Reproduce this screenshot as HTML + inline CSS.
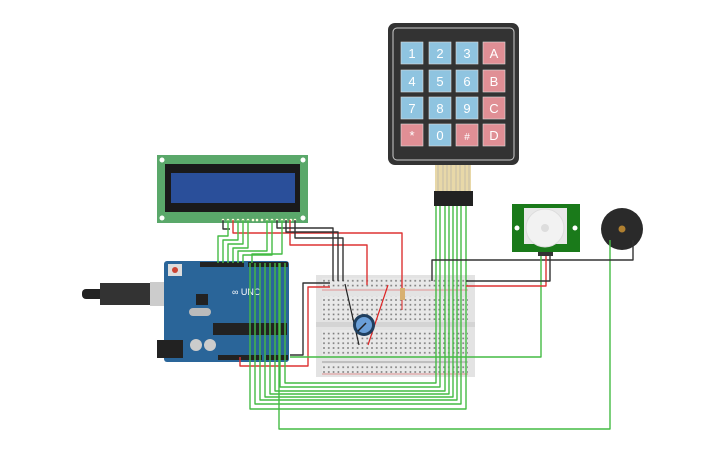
<!DOCTYPE html>
<html><head><meta charset="utf-8"><style>
html,body{margin:0;padding:0;background:#fff;width:725px;height:453px;overflow:hidden}
svg{display:block}
text{font-family:"Liberation Sans",sans-serif}
</style></head><body>
<svg width="725" height="453" viewBox="0 0 725 453" xmlns="http://www.w3.org/2000/svg">
<defs>
<pattern id="holes" x="0" y="0" width="4.8" height="4.8" patternUnits="userSpaceOnUse">
<rect width="4.8" height="4.8" fill="#e8e8e8"/><rect x="1.6" y="1.6" width="1.6" height="1.6" fill="#777"/>
</pattern>
</defs>

<!-- Breadboard -->
<rect x="316" y="275" width="159" height="102" fill="#e3e3e3"/>
<rect x="322" y="278" width="146" height="10" fill="url(#holes)"/>
<line x1="322" y1="290" x2="468" y2="290" stroke="#d44" stroke-width="0.6"/>
<rect x="322" y="296" width="146" height="24" fill="url(#holes)"/>
<rect x="316" y="322" width="159" height="5" fill="#d4d4d4"/>
<rect x="322" y="330" width="146" height="26" fill="url(#holes)"/>
<line x1="322" y1="362" x2="468" y2="362" stroke="#555" stroke-width="0.6"/>
<rect x="322" y="364" width="146" height="9" fill="url(#holes)"/>
<line x1="322" y1="374" x2="468" y2="374" stroke="#d44" stroke-width="0.6"/>

<!-- Keypad -->
<rect x="388" y="23" width="131" height="142" rx="7" fill="#333"/>
<rect x="393" y="28" width="121" height="132" rx="4" fill="none" stroke="#ccc" stroke-width="1"/>
<g font-size="13" fill="#fff" text-anchor="middle">
<rect x="401" y="42" width="22" height="22" fill="#8fc4e0" stroke="#ddd" stroke-width="0.6"/><text x="412" y="58">1</text>
<rect x="429" y="42" width="22" height="22" fill="#8fc4e0" stroke="#ddd" stroke-width="0.6"/><text x="440" y="58">2</text>
<rect x="456" y="42" width="22" height="22" fill="#8fc4e0" stroke="#ddd" stroke-width="0.6"/><text x="467" y="58">3</text>
<rect x="483" y="42" width="22" height="22" fill="#e08f95" stroke="#ddd" stroke-width="0.6"/><text x="494" y="58">A</text>
<rect x="401" y="70" width="22" height="22" fill="#8fc4e0" stroke="#ddd" stroke-width="0.6"/><text x="412" y="86">4</text>
<rect x="429" y="70" width="22" height="22" fill="#8fc4e0" stroke="#ddd" stroke-width="0.6"/><text x="440" y="86">5</text>
<rect x="456" y="70" width="22" height="22" fill="#8fc4e0" stroke="#ddd" stroke-width="0.6"/><text x="467" y="86">6</text>
<rect x="483" y="70" width="22" height="22" fill="#e08f95" stroke="#ddd" stroke-width="0.6"/><text x="494" y="86">B</text>
<rect x="401" y="97" width="22" height="22" fill="#8fc4e0" stroke="#ddd" stroke-width="0.6"/><text x="412" y="113">7</text>
<rect x="429" y="97" width="22" height="22" fill="#8fc4e0" stroke="#ddd" stroke-width="0.6"/><text x="440" y="113">8</text>
<rect x="456" y="97" width="22" height="22" fill="#8fc4e0" stroke="#ddd" stroke-width="0.6"/><text x="467" y="113">9</text>
<rect x="483" y="97" width="22" height="22" fill="#e08f95" stroke="#ddd" stroke-width="0.6"/><text x="494" y="113">C</text>
<rect x="401" y="124" width="22" height="22" fill="#e08f95" stroke="#ddd" stroke-width="0.6"/><text x="412" y="140">*</text>
<rect x="429" y="124" width="22" height="22" fill="#8fc4e0" stroke="#ddd" stroke-width="0.6"/><text x="440" y="140">0</text>
<rect x="456" y="124" width="22" height="22" fill="#e08f95" stroke="#ddd" stroke-width="0.6"/><text x="467" y="140" font-size="10">#</text>
<rect x="483" y="124" width="22" height="22" fill="#e08f95" stroke="#ddd" stroke-width="0.6"/><text x="494" y="140">D</text>
</g>
<rect x="435" y="165" width="36" height="27" fill="#e8d8a8"/>
<g stroke="#aaa" stroke-width="0.6"><line x1="438" y1="165" x2="438" y2="191"/><line x1="443" y1="165" x2="443" y2="191"/><line x1="447" y1="165" x2="447" y2="191"/><line x1="451" y1="165" x2="451" y2="191"/><line x1="456" y1="165" x2="456" y2="191"/><line x1="460" y1="165" x2="460" y2="191"/><line x1="465" y1="165" x2="465" y2="191"/><line x1="469" y1="165" x2="469" y2="191"/></g>
<rect x="434" y="191" width="39" height="15" fill="#222"/>

<!-- LCD -->
<rect x="157" y="155" width="151" height="68" fill="#5aa86a"/>
<circle cx="162" cy="160" r="2.5" fill="#fff"/><circle cx="303" cy="160" r="2.5" fill="#fff"/>
<circle cx="162" cy="218" r="2.5" fill="#fff"/><circle cx="303" cy="218" r="2.5" fill="#fff"/>
<rect x="165" y="164" width="135" height="48" fill="#1a1a1a"/>
<rect x="171" y="173" width="124" height="30" fill="#2a4f9a"/>
<g fill="#ffd"><circle cx="223" cy="220" r="1.3"/><circle cx="228" cy="220" r="1.3"/><circle cx="233" cy="220" r="1.3"/><circle cx="238" cy="220" r="1.3"/><circle cx="243" cy="220" r="1.3"/><circle cx="248" cy="220" r="1.3"/><circle cx="253" cy="220" r="1.3"/><circle cx="257" cy="220" r="1.3"/><circle cx="262" cy="220" r="1.3"/><circle cx="267" cy="220" r="1.3"/><circle cx="272" cy="220" r="1.3"/><circle cx="277" cy="220" r="1.3"/><circle cx="282" cy="220" r="1.3"/><circle cx="286" cy="220" r="1.3"/><circle cx="291" cy="220" r="1.3"/><circle cx="295" cy="220" r="1.3"/></g>

<!-- PIR -->
<rect x="512" y="204" width="68" height="48" fill="#1a7a1a"/>
<rect x="524" y="208" width="43" height="36" fill="#e8e8e8"/>
<circle cx="545" cy="228" r="19" fill="#f2f2f2" stroke="#ddd"/>
<circle cx="545" cy="228" r="4" fill="#ddd"/>
<circle cx="517" cy="228" r="2.5" fill="#fff"/><circle cx="575" cy="228" r="2.5" fill="#fff"/>
<rect x="538" y="252" width="15" height="4" fill="#333"/>

<!-- Buzzer -->
<circle cx="622" cy="229" r="21" fill="#2a2a2a"/>
<circle cx="622" cy="229" r="3.5" fill="#b08030"/>

<!-- Arduino -->
<rect x="82" y="289" width="22" height="10" rx="4" fill="#222"/>
<rect x="100" y="283" width="52" height="22" fill="#333"/>
<rect x="150" y="282" width="34" height="24" fill="#ccc"/>
<rect x="164" y="261" width="125" height="101" rx="3" fill="#2a6599"/>
<rect x="168" y="264" width="14" height="12" fill="#ddd"/><circle cx="175" cy="270" r="3" fill="#c43"/>
<rect x="200" y="262" width="44" height="5" fill="#222"/>
<rect x="248" y="262" width="40" height="5" fill="#222"/>
<rect x="157" y="340" width="26" height="18" fill="#222"/>
<circle cx="196" cy="345" r="6" fill="#ccc"/><circle cx="210" cy="345" r="6" fill="#ccc"/>
<rect x="213" y="323" width="74" height="12" fill="#222"/>
<rect x="196" y="294" width="12" height="11" fill="#222"/>
<rect x="189" y="308" width="22" height="8" rx="4" fill="#bbb"/>
<rect x="218" y="355" width="44" height="5" fill="#222"/>
<rect x="266" y="355" width="22" height="5" fill="#222"/>
<text x="232" y="295" font-size="9" fill="#fff">∞ UNO</text>

<!-- Potentiometer & resistor -->
<line x1="345" y1="284" x2="359" y2="345" stroke="#222" stroke-width="1.2"/>
<line x1="388" y1="285" x2="368" y2="345" stroke="#d22" stroke-width="1.2"/>
<circle cx="364" cy="325" r="11" fill="#1f3f5f"/><circle cx="364" cy="325" r="8" fill="#6a9fd8"/>
<line x1="358" y1="331" x2="366" y2="323" stroke="#222" stroke-width="1.5"/>
<rect x="400" y="288" width="5" height="12" fill="#d8b070"/>
<line x1="402" y1="300" x2="402" y2="310" stroke="#d22" stroke-width="1"/>

<!-- wires -->
<g fill="none" stroke-width="1.4" stroke-linejoin="round">
<path d="M233 220 V233 H402 V288" stroke="#d33"/>
<path d="M290 220 V245 H367 V285" stroke="#d33"/>
<path d="M277 220 V228 H333 V281" stroke="#333"/>
<path d="M286 220 V232 H338 V281" stroke="#333"/>
<path d="M295 220 V238 H343 V281" stroke="#333"/>
<path d="M223 220 V229 H230" stroke="#333"/>
<path d="M228 220 V236 H218 V263" stroke="#4b4"/>
<path d="M238 220 V240 H223 V263" stroke="#4b4"/>
<path d="M243 220 V244 H228 V263" stroke="#4b4"/>
<path d="M248 220 V248 H233 V263" stroke="#4b4"/>
<path d="M267 220 V251 H238 V263" stroke="#4b4"/>
<path d="M272 220 V255 H243 V263" stroke="#4b4"/>
<path d="M282 220 V254 H252 V263" stroke="#4b4"/>
<path d="M290 355 H303 V283 H330" stroke="#333"/>
<path d="M240 357 V366 H308 V287 H330" stroke="#d33"/>
<path d="M436 206 V383 H285 V263" stroke="#4b4"/>
<path d="M440 206 V387 H280 V263" stroke="#4b4"/>
<path d="M445 206 V391 H275 V263" stroke="#4b4"/>
<path d="M449 206 V394 H270 V263" stroke="#4b4"/>
<path d="M453 206 V397 H265 V263" stroke="#4b4"/>
<path d="M457 206 V400 H260 V263" stroke="#4b4"/>
<path d="M461 206 V404 H255 V263" stroke="#4b4"/>
<path d="M466 206 V409 H250 V263" stroke="#4b4"/>
<path d="M610 240 V429 H279 V263" stroke="#4b4"/>
<path d="M633 240 V260 H432 V281" stroke="#333"/>
<path d="M541 256 V357 H290" stroke="#4b4"/>
<path d="M546 256 V286 H466" stroke="#d33"/>
<path d="M550 256 V281 H466" stroke="#333"/>
</g>
</svg>
</body></html>
